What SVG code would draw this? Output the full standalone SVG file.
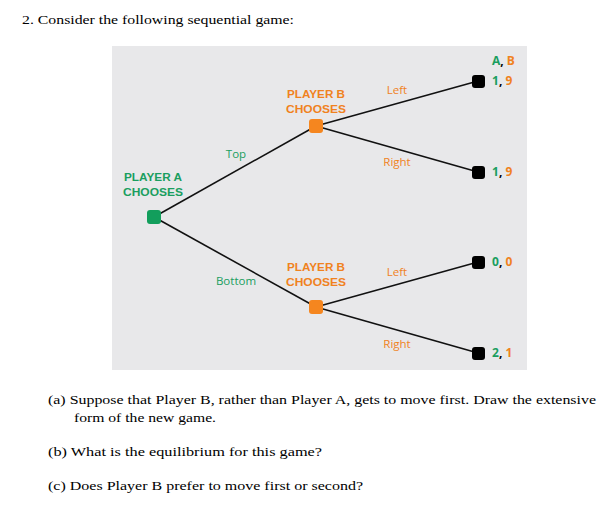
<svg xmlns="http://www.w3.org/2000/svg" width="616" height="510" viewBox="0 0 616 510">
<style>
.s{font-family:"Liberation Serif",serif;font-size:13.5px;fill:#000}
.l{font-family:"Open Sans","Liberation Sans",sans-serif;font-size:11.5px}
.b{font-family:"Open Sans","Liberation Sans",sans-serif;font-size:12px;font-weight:bold}
.n{font-family:"Liberation Sans",sans-serif;font-size:11.5px;font-weight:bold}
.g{fill:#1a9e5f}.o{fill:#f0821e}
.e{stroke:#111;stroke-width:1.6;fill:none}
</style>
<rect width="616" height="510" fill="#fff"/>
<text class="s" x="22" y="24" textLength="272" lengthAdjust="spacingAndGlyphs">2. Consider the following sequential game:</text>
<rect x="112" y="46" width="415" height="324" fill="#e8e8ea"/>
<g id="edges">
<line class="e" x1="154" y1="217" x2="316" y2="126"/>
<line class="e" x1="154" y1="217" x2="316" y2="307"/>
<line class="e" x1="316" y1="126" x2="478" y2="81"/>
<line class="e" x1="316" y1="126" x2="478" y2="172"/>
<line class="e" x1="316" y1="307" x2="478" y2="262"/>
<line class="e" x1="316" y1="307" x2="478" y2="353"/>
</g>
<g id="labels">
<text class="l g" x="236" y="158" text-anchor="middle">Top</text>
<text class="l g" x="236" y="285" text-anchor="middle">Bottom</text>
<text class="l o" x="397" y="94" text-anchor="middle">Left</text>
<text class="l o" x="397" y="166" text-anchor="middle">Right</text>
<text class="l o" x="397" y="276" text-anchor="middle">Left</text>
<text class="l o" x="397" y="348" text-anchor="middle">Right</text>
</g>
<g id="nodeA"><rect x="147" y="210" width="14" height="14" rx="3" fill="#129e5c"/>
<text class="n g" x="153" y="181" text-anchor="middle" textLength="58" lengthAdjust="spacingAndGlyphs">PLAYER A</text>
<text class="n g" x="153" y="196" text-anchor="middle" textLength="60" lengthAdjust="spacingAndGlyphs">CHOOSES</text></g>
<g id="nodeB1"><rect x="309" y="119" width="14" height="14" rx="3" fill="#f5861f"/>
<text class="n o" x="316" y="98" text-anchor="middle" textLength="58" lengthAdjust="spacingAndGlyphs">PLAYER B</text>
<text class="n o" x="316" y="113" text-anchor="middle" textLength="60" lengthAdjust="spacingAndGlyphs">CHOOSES</text></g>
<g id="nodeB2"><rect x="309" y="300" width="14" height="14" rx="3" fill="#f5861f"/>
<text class="n o" x="316" y="271" text-anchor="middle" textLength="58" lengthAdjust="spacingAndGlyphs">PLAYER B</text>
<text class="n o" x="316" y="286" text-anchor="middle" textLength="60" lengthAdjust="spacingAndGlyphs">CHOOSES</text></g>
<g id="header"><text class="b" x="492" y="65"><tspan class="g">A</tspan><tspan fill="#000">,</tspan> <tspan class="o">B</tspan></text></g>
<g id="t1"><rect x="472" y="75" width="13" height="13" rx="3" fill="#000"/><text class="b" x="492" y="85"><tspan class="g">1</tspan>, <tspan class="o">9</tspan></text></g>
<g id="t2"><rect x="472" y="166" width="13" height="13" rx="3" fill="#000"/><text class="b" x="492" y="176"><tspan class="g">1</tspan>, <tspan class="o">9</tspan></text></g>
<g id="t3"><rect x="472" y="256" width="13" height="13" rx="3" fill="#000"/><text class="b" x="492" y="266"><tspan class="g">0</tspan>, <tspan class="o">0</tspan></text></g>
<g id="t4"><rect x="472" y="347" width="13" height="13" rx="3" fill="#000"/><text class="b" x="492" y="357"><tspan class="g">2</tspan>, <tspan class="o">1</tspan></text></g>
<text class="s" x="48" y="404" textLength="548" lengthAdjust="spacingAndGlyphs">(a) Suppose that Player B, rather than Player A, gets to move first. Draw the extensive</text>
<text class="s" x="74" y="422" textLength="142" lengthAdjust="spacingAndGlyphs">form of the new game.</text>
<text class="s" x="48" y="456" textLength="274" lengthAdjust="spacingAndGlyphs">(b) What is the equilibrium for this game?</text>
<text class="s" x="48" y="490" textLength="315" lengthAdjust="spacingAndGlyphs">(c) Does Player B prefer to move first or second?</text>
</svg>
